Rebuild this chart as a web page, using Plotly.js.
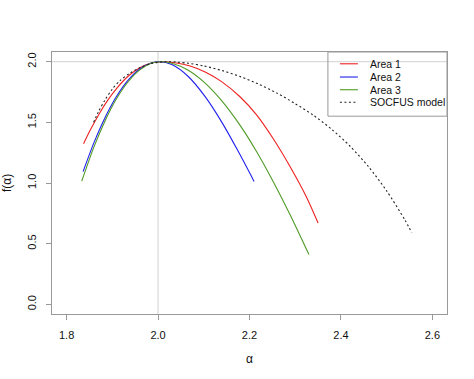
<!DOCTYPE html>
<html>
<head>
<meta charset="utf-8">
<script src="https://cdn.plot.ly/plotly-3.0.1.min.js"></script>
<style>html,body{margin:0;padding:0;background:#fff;}#chart{width:474px;height:379px;}</style>
</head>
<body>
<div id="chart"></div>
<script>
// ---- data ----
const seriesNames = ["Area 1", "Area 2", "Area 3", "SOCFUS model"];

const alphaArea1 = [1.837, 1.852, 1.873, 1.890, 1.910, 1.935, 1.960, 1.985, 2.005, 2.040, 2.070, 2.103, 2.139, 2.178, 2.215, 2.252, 2.288, 2.325, 2.350];
const fArea1     = [1.323, 1.438, 1.582, 1.683, 1.783, 1.882, 1.951, 1.990, 2.000, 1.990, 1.964, 1.915, 1.836, 1.715, 1.564, 1.365, 1.140, 0.881, 0.670];

const alphaArea2 = [1.836, 1.860, 1.885, 1.910, 1.935, 1.960, 1.985, 2.003, 2.030, 2.066, 2.103, 2.139, 2.175, 2.210];
const fArea2     = [1.094, 1.335, 1.547, 1.719, 1.850, 1.940, 1.989, 2.000, 1.976, 1.878, 1.712, 1.504, 1.263, 1.013];

const alphaArea3 = [1.833, 1.860, 1.885, 1.910, 1.935, 1.960, 1.985, 2.005, 2.030, 2.066, 2.103, 2.139, 2.178, 2.215, 2.252, 2.288, 2.330];
const fArea3     = [1.015, 1.300, 1.520, 1.700, 1.837, 1.933, 1.987, 2.000, 1.988, 1.930, 1.824, 1.679, 1.483, 1.262, 1.011, 0.744, 0.410];

const alphaSocfus = [1.859, 1.870, 1.884, 1.900, 1.917, 1.939, 1.960, 1.985, 2.015, 2.040, 2.066, 2.100, 2.140, 2.180, 2.220, 2.260, 2.300, 2.340, 2.380, 2.420, 2.460, 2.500, 2.540, 2.555];
const fSocfus     = [1.500, 1.590, 1.685, 1.775, 1.845, 1.907, 1.950, 1.985, 2.000, 1.997, 1.987, 1.965, 1.927, 1.877, 1.815, 1.741, 1.654, 1.558, 1.442, 1.303, 1.136, 0.935, 0.695, 0.590];

const xTickVals = [1.8, 2.0, 2.2, 2.4, 2.6];
const xTickText = ["1.8", "2.0", "2.2", "2.4", "2.6"];
const yTickVals = [0, 0.5, 1.0, 1.5, 2.0];
const yTickText = ["0.0", "0.5", "1.0", "1.5", "2.0"];
const refAlpha = 2.0;
const refF = 2.0;

// ---- styles ----
const colors = ["#ee2020", "#2020ee", "#4f9a25", "#222222"];
const dashes = ["solid", "solid", "solid", "2px,2.5px"];
const xs = [alphaArea1, alphaArea2, alphaArea3, alphaSocfus];
const ys = [fArea1, fArea2, fArea3, fSocfus];

const traces = xs.map((x, i) => ({
  x: x, y: ys[i], type: "scatter", mode: "lines", name: seriesNames[i],
  line: {color: colors[i], width: 1.1, dash: dashes[i], shape: "spline", smoothing: 0.8},
  showlegend: false, hoverinfo: "skip"
}));

const font = "Liberation Sans, Arial, Helvetica, sans-serif";
const boxColor = "#999999";

// manual R-style legend (paper coordinates)
const legX0 = 0.6985, legX1 = 1.0, legY0 = 0.755, legY1 = 1.0;
const rowY = [0.955, 0.9045, 0.856, 0.808];
const shapes = [
  {type: "rect", xref: "paper", yref: "paper", x0: legX0, x1: legX1, y0: legY0, y1: legY1,
   line: {color: boxColor, width: 1}, fillcolor: "rgba(0,0,0,0)", layer: "above"},
  {type: "line", xref: "x", yref: "paper", x0: refAlpha, x1: refAlpha, y0: 0, y1: 1,
   line: {color: "#d0d0d0", width: 1}, layer: "below"},
  {type: "line", xref: "paper", yref: "y", x0: 0, x1: 1, y0: refF, y1: refF,
   line: {color: "#d0d0d0", width: 1}, layer: "below"}
];
const annotations = [];
seriesNames.forEach((n, i) => {
  shapes.push({type: "line", xref: "paper", yref: "paper", x0: 0.7289, x1: 0.7744, y0: rowY[i], y1: rowY[i],
    line: {color: colors[i], width: 1.1, dash: dashes[i]}, layer: "above"});
  annotations.push({xref: "paper", yref: "paper", x: 0.7995, y: rowY[i], xanchor: "left", yanchor: "middle",
    text: n, showarrow: false, font: {family: font, size: 10.5, color: "#111"}});
});

const layout = {
  width: 474, height: 379,
  margin: {l: 52, r: 27, t: 52, b: 65},
  paper_bgcolor: "#fff", plot_bgcolor: "#fff",
  font: {family: font, color: "#111"},
  showlegend: false,
  xaxis: {
    range: [1.768, 2.632], tickvals: xTickVals, ticktext: xTickText,
    ticks: "outside", ticklen: 5, tickcolor: boxColor, tickwidth: 1,
    showline: true, linecolor: boxColor, linewidth: 1, mirror: true,
    showgrid: false, zeroline: false,
    tickfont: {family: font, size: 11, color: "#111"},
    ticklabelstandoff: 6,
    title: {text: "α", font: {family: font, size: 12, color: "#111"}, standoff: 14}
  },
  yaxis: {
    range: [-0.08, 2.08], tickvals: yTickVals, ticktext: yTickText, tickangle: -90,
    ticks: "outside", ticklen: 5, tickcolor: boxColor, tickwidth: 1,
    showline: true, linecolor: boxColor, linewidth: 1, mirror: true,
    showgrid: false, zeroline: false,
    tickfont: {family: font, size: 11, color: "#111"},
    ticklabelstandoff: 6,
    title: {text: "f(α)", font: {family: font, size: 12, color: "#111"}, standoff: 14}
  },
  shapes: shapes,
  annotations: annotations
};

Plotly.newPlot("chart", traces, layout, {displayModeBar: false, staticPlot: true});
</script>
</body>
</html>
